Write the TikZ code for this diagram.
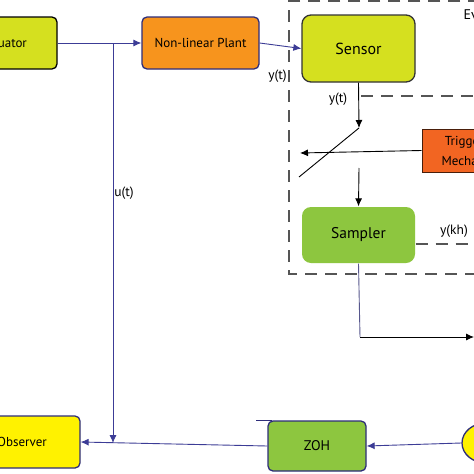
\documentclass[tikz,border=0pt]{standalone}
\usepackage{fontspec}
\setmainfont{PT Sans}
\usetikzlibrary{arrows.meta,shapes.geometric}
\definecolor{navy}{HTML}{2E2D7A}
\definecolor{linenavy}{HTML}{3C3C96}
\definecolor{lime}{HTML}{D5E01F}
\definecolor{plantor}{HTML}{F7941D}
\definecolor{trigor}{HTML}{F26522}
\definecolor{sgreen}{HTML}{8DC63F}
\definecolor{yel}{HTML}{FFF200}
\definecolor{dashgray}{HTML}{555555}
\tikzset{
  blk/.style={rectangle, rounded corners=5pt, line width=1.3pt, minimum width=#1, align=center, font=\fontsize{13}{15}\selectfont},
  navyline/.style={draw=linenavy, line width=0.9pt, -{Latex[length=8pt,width=7pt]}},
  blkline/.style={draw=black, line width=0.9pt, -{Latex[length=8pt,width=7pt]}},
  dashbox/.style={draw=dashgray, line width=1.4pt, dash pattern=on 12pt off 8pt},
  lbl/.style={font=\fontsize{13.5}{15}\selectfont, inner sep=1pt}
}
\begin{document}
\begin{tikzpicture}[x=1pt,y=-1pt]
\useasboundingbox (0,0) rectangle (474,474);
\clip (0,0) rectangle (474,474);
\fill[white] (0,0) rectangle (474,474);
% dashed event-triggered region
\draw[dashbox] (540,1) -- (289,1) -- (289,274) -- (540,274);
\node[lbl, anchor=west, font=\fontsize{14}{16}\selectfont] (evt) at (462.5,16) {Event-triggered};
% blocks
\node[blk=107pt, minimum height=52pt, fill=lime, draw=black] (act) at (3.5,43) {Actuator};
\node[blk=117pt, minimum height=52pt, fill=plantor, draw=navy] (plant) at (200.5,43) {Non-linear Plant};
\node[blk=113pt, minimum height=67pt, fill=lime, draw=black!80, rounded corners=9pt, font=\fontsize{16}{18}\selectfont] (sensor) at (358.5,48.5) {Sensor};
\node[rectangle, minimum width=108pt, minimum height=43pt, fill=trigor, draw=black!70!trigor, line width=1pt, align=center, inner sep=1pt, font=\fontsize{13}{20}\selectfont] (trig) at (476,150.5) {\hspace*{-6pt}Triggering\\\hspace*{-6pt}Mechanism};
\node[blk=113pt, minimum height=56pt, fill=sgreen, draw=none, rounded corners=9pt, font=\fontsize{15.5}{17}\selectfont] (samp) at (358.5,235) {Sampler};
\node[blk=98pt, minimum height=50pt, fill=sgreen, draw=navy, font=\fontsize{14}{16}\selectfont] (zoh) at (317,446) {ZOH};
\node[blk=116pt, minimum height=52pt, fill=yel, draw=navy] (obs) at (22,442) {Observer};
\node[ellipse, minimum width=48pt, minimum height=40pt, fill=yel, draw=navy, line width=1.3pt] (circ) at (486,443) {};
% ZOH flag
\draw[navy, line width=1.3pt] ([xshift=-11pt]zoh.north west) -- ([xshift=5pt]zoh.north west);
% coordinates
\coordinate (br) at (113,43);
\coordinate (bd) at (113,443);
\coordinate (swtop) at (359,128);
\coordinate (swbot) at (299,177);
\coordinate (trigend) at (300,153);
\coordinate (sampin) at (359,168);
\coordinate (samout) at (360,337);
\coordinate (outend) at (474,337);
\coordinate (yd1) at (361,96);
\coordinate (yd2) at (540,96);
\coordinate (yk2) at (540,244);
% connectors
\draw[navyline] (act.east) -- (plant.west);
\draw[navyline] (br) -- (bd);
\draw[navyline] (plant.east) -- (sensor.west);
\draw[navyline] (circ.west) -- (zoh.east);
\draw[navyline] (zoh.west) -- (obs.east);
\draw[blkline] (sensor.south) -- (swtop);
\draw[black, line width=0.9pt] (swbot) -- (swtop);
\draw[blkline] (trig.west) -- (trigend);
\draw[blkline] (sampin) -- (samp.north);
\draw[draw=linenavy!60!gray, line width=0.9pt] (samp.south) -- (samout);
\draw[blkline] (samout) -- (outend);
\draw[dashbox, line width=1.2pt] (yd1) -- (yd2);
\draw[dashbox, line width=1.2pt] (samp.east |- 0,244) -- (yk2);
% labels
\node[lbl] (lyt1) at (277.5,76) {y(t)};
\node[lbl] (lyt2) at (338,99) {y(t)};
\node[lbl] (lykh) at (454,231) {y(kh)};
\node[lbl] (lut) at (124,193) {u(t)};
\end{tikzpicture}
\end{document}
